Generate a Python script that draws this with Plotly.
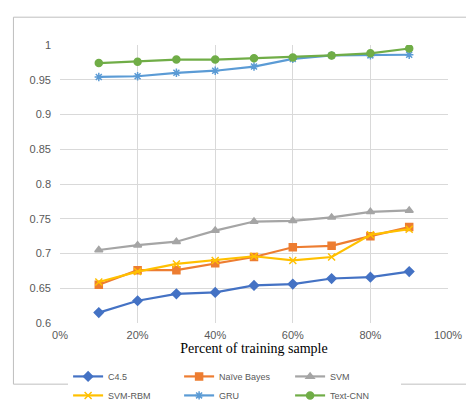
import plotly.graph_objects as go

x_vals = [10, 20, 30, 40, 50, 60, 70, 80, 90]
c45 = [0.615, 0.632, 0.642, 0.644, 0.654, 0.656, 0.664, 0.666, 0.674]
naive_bayes = [0.655, 0.676, 0.676, 0.686, 0.695, 0.709, 0.711, 0.725, 0.738]
svm = [0.705, 0.712, 0.717, 0.733, 0.746, 0.747, 0.752, 0.760, 0.762]
svm_rbm = [0.659, 0.674, 0.685, 0.690, 0.696, 0.690, 0.695, 0.727, 0.735]
gru = [0.954, 0.955, 0.960, 0.963, 0.969, 0.980, 0.985, 0.985, 0.986]
text_cnn = [0.974, 0.976, 0.979, 0.979, 0.981, 0.982, 0.985, 0.988, 0.995]

series = [
    ('C4.5', c45, '#4472C4', 'diamond'),
    ('Naïve Bayes', naive_bayes, '#ED7D31', 'square'),
    ('SVM', svm, '#A5A5A5', 'triangle-up'),
    ('SVM-RBM', svm_rbm, '#FFC000', 'x-thin'),
    ('GRU', gru, '#5B9BD5', 'asterisk'),
    ('Text-CNN', text_cnn, '#70AD47', 'circle'),
]

fig = go.Figure()
for name, ys, color, sym in series:
    fig.add_trace(go.Scatter(
        x=x_vals, y=ys, name=name, mode='lines+markers',
        line=dict(color=color, width=2.2),
        marker=dict(symbol=sym, size=7, color=color,
                    line=dict(color=color, width=1.5)),
    ))

fig.update_layout(
    width=474, height=414,
    margin=dict(l=52, r=34, t=37, b=63),
    paper_bgcolor='white', plot_bgcolor='white',
    font=dict(family='Liberation Sans, Arial', size=11, color='#595959'),
    showlegend=True,
    legend=dict(orientation='h', x=0.45, xanchor='center', y=-0.14, yanchor='top',
                font=dict(size=9), itemwidth=30, entrywidth=66, tracegroupgap=0),
    shapes=[dict(type='rect', xref='paper', yref='paper', x0=-0.12, y0=-0.22,
                 x1=1.07, y1=1.1, line=dict(color='#BFBFBF', width=1))],
)
fig.update_xaxes(range=[0, 100], dtick=20, ticksuffix='%', showgrid=True,
                 gridcolor='#D9D9D9', zeroline=False, ticklabelstandoff=4,
                 title=dict(text='Percent of training sample', standoff=0,
                            font=dict(family='Liberation Serif', size=14, color='black')))
fig.update_yaxes(range=[0.6, 1], dtick=0.05, showgrid=True, gridcolor='#D9D9D9',
                 zeroline=False, tickformat='~g', ticklabelstandoff=8)
fig.write_html('out.html')
